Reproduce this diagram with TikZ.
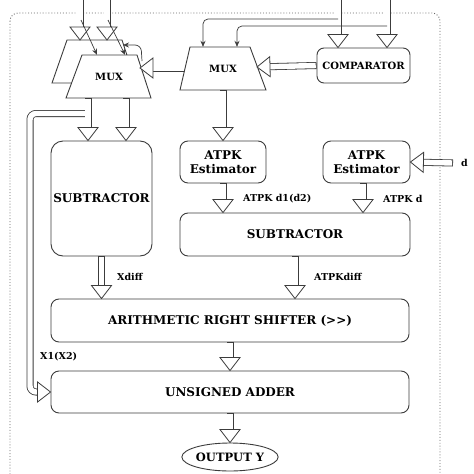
\documentclass[tikz,border=0pt]{standalone}
\usepackage{fontspec}
\setmainfont{DejaVu Serif}
\usetikzlibrary{arrows.meta,calc,shapes.geometric}
\definecolor{wireg}{RGB}{60,60,60}

\tikzset{
  block/.style={draw=wireg, line width=0.9pt, rounded corners=8pt, fill=white, align=center, inner sep=0pt, font=\fontsize{12}{14}\selectfont\bfseries},
  muxshape/.style={draw=wireg, line width=0.9pt, fill=white, line join=miter},
  muxlabel/.style={minimum width=55pt, minimum height=43pt, inner sep=0pt, font=\fontsize{10}{12}\selectfont\bfseries},
  sig/.style={font=\fontsize{9.5}{11}\selectfont\bfseries, anchor=west, inner sep=0pt},
  wire/.style={draw=wireg, line width=0.7pt, -{Stealth[length=6pt,width=5pt]}},
  shaftout/.style={draw=wireg, line width=7pt},
  shaftin/.style={draw=white, line width=5.4pt, shorten <=0.8pt},
  headtip/.style={draw=wireg, line width=0.8pt, fill=white, line join=miter},
}

% wide open arrow between two points
\newcommand{\bigarrow}[2]{%
  \coordinate (ba) at (#1);
  \coordinate (bb) at (#2);
  \coordinate (bc) at ($(bb)!13pt!(ba)$);
  \draw[shaftout] (ba) -- ($(bb)!12pt!(ba)$);
  \draw[shaftin] (ba) -- ($(bb)!12pt!(ba)$);
  \draw[headtip] (bb) -- ($(bc)!10pt!90:(bb)$) -- ($(bc)!10pt!-90:(bb)$) -- cycle;
}

\begin{document}
\begin{tikzpicture}[x=1pt, y=-1pt]
\useasboundingbox (0,0) rectangle (474,474);
\clip (0,0) rectangle (474,474);
\fill[white] (0,0) rectangle (474,474);

% outer frame
\draw[dotted, line width=0.9pt, rounded corners=8pt, black!60] (10,13) rectangle (440,495);

% left multiplexer pair
\draw[muxshape] (67,40) -- (122,40) -- (136,83) -- (52,83) -- cycle;
\draw[muxshape] (82,55) -- (137,55) -- (151,98) -- (66,98) -- cycle;
\node[muxlabel] (mux1) at (109,76.5) {MUX};
\coordinate (mux1e) at (140,68);

% right multiplexer and comparator
\bigarrow{205,68}{mux1e}
\draw[muxshape] (190,47) -- (250,47) -- (266,90) -- (180,90) -- cycle;
\node[muxlabel] (mux2) at (223,68.5) {MUX};
\coordinate (mux2e) at (257,67);
\node[block, rounded corners=7pt, minimum width=93pt, minimum height=35pt, font=\fontsize{10}{12}\selectfont\bfseries] (comp) at (363.5,65.5) {COMPARATOR};

% processing blocks
\node[block, rounded corners=12pt, minimum width=101pt, minimum height=115pt] (sub1) at (101.5,198.5) {SUBTRACTOR};
\node[block, minimum width=86pt, minimum height=42pt] (est1) at (223,162) {ATPK\\Estimator};
\node[block, minimum width=87pt, minimum height=42pt] (est2) at (366.5,162) {ATPK\\Estimator};
\node[block, minimum width=230pt, minimum height=43pt] (sub2) at (295,234.5) {SUBTRACTOR};
\node[block, minimum width=358pt, minimum height=43pt] (shift) at (230,320.5) {ARITHMETIC RIGHT SHIFTER (>{}>)};
\node[block, minimum width=358pt, minimum height=42pt] (add) at (230,392) {UNSIGNED ADDER};
\node[ellipse, draw=wireg, line width=0.9pt, minimum width=86pt, minimum height=28pt, inner sep=0pt, font=\fontsize{11.5}{14}\selectfont\bfseries] (out) at (230,457) {OUTPUT Y};

% X1(X2) bypass
\coordinate (xa) at (88,113.5);
\draw[shaftout, rounded corners=6pt] (xa) -| (30,392) -- ($(add.west)+(-12,0)$);
\draw[shaftin, rounded corners=6pt] (xa) -| (30,392) -- ($(add.west)+(-12,0)$);
\draw[headtip] (add.west) -- ++(-13,-10) -- ++(0,20) -- cycle;

% wide arrows
\bigarrow{80,-5}{80,40}
\bigarrow{107,-5}{107,40}
\bigarrow{338,-5}{338,0 |- comp.north}
\bigarrow{387,-5}{387,0 |- comp.north}
\bigarrow{comp.west}{mux2e}
\bigarrow{88,0 |- mux1.south}{88,0 |- sub1.north}
\bigarrow{126,0 |- mux1.south}{126,0 |- sub1.north}
\bigarrow{mux2.south}{mux2.south |- est1.north}
\bigarrow{est1.south}{est1.south |- sub2.north}
\bigarrow{363,0 |- est2.south}{363,0 |- sub2.north}
\bigarrow{453,163}{est2.east}
\bigarrow{sub1.south}{sub1.south |- shift.north}
\bigarrow{sub2.south}{sub2.south |- shift.north}
\bigarrow{shift.south}{add.north}
\bigarrow{add.south}{out.north}

% thin select lines
\coordinate (s1) at (81,20);
\coordinate (s2) at (108,20);
\coordinate (s3) at (338,19);
\coordinate (s4) at (387,26);
\coordinate (fb) at (142,61);
\draw[wire] (s1) -- (97,0 |- mux1.north);
\draw[wire] (s2) -- (125,0 |- mux1.north);
\draw[wire, rounded corners=6pt] (fb) -- (141,45) -- (123,45);
\draw[wire, rounded corners=5pt] (s3) -| (203,0 |- mux2.north);
\draw[wire, rounded corners=5pt] (s4) -| (237,0 |- mux2.north);

% signal labels
\node[sig] at (117,277) {Xdiff};
\node[sig] at (314,277) {ATPKdiff};
\node[sig] at (243,199) {ATPK d1(d2)};
\node[sig] at (383,199) {ATPK d};
\node[sig] at (461,163) {d};
\node[sig] at (40,357) {X1(X2)};
\end{tikzpicture}
\end{document}
